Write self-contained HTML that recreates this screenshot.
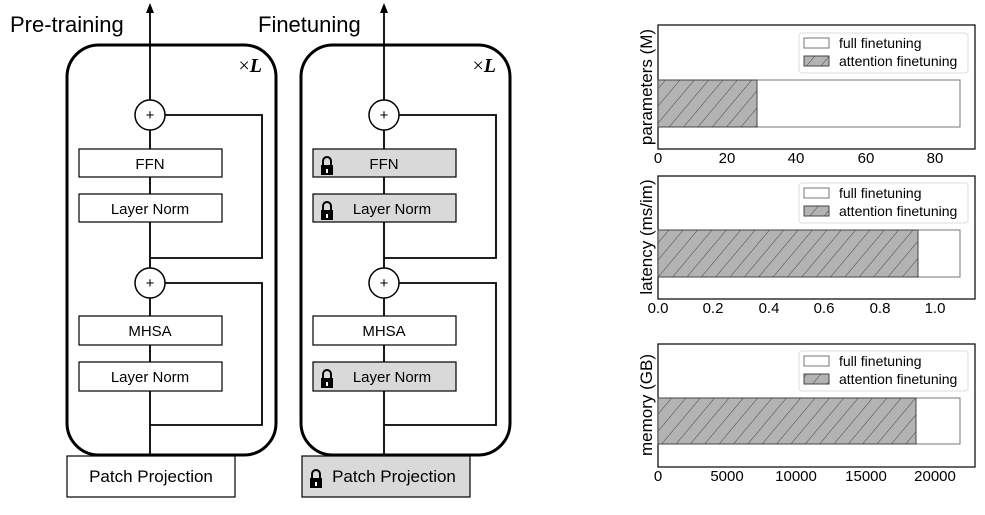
<!DOCTYPE html>
<html><head><style>body{margin:0;background:#fff}svg{display:block}</style></head><body>
<svg width="985" height="515" viewBox="0 0 985 515" xmlns="http://www.w3.org/2000/svg" font-family="Liberation Sans, sans-serif">
<defs>
<pattern id="h" width="11" height="11" patternUnits="userSpaceOnUse" patternTransform="rotate(40)">
<rect width="11" height="11" fill="#b3b3b3"/><line x1="0" y1="0" x2="0" y2="11" stroke="#444" stroke-width="1"/></pattern>
<g id="lock"><rect x="-6" y="-1" width="12" height="10" fill="#000"/><path d="M-4,-1 v-4 a4,4 0 0 1 8,0 v4" fill="none" stroke="#000" stroke-width="2"/><rect x="-1" y="3" width="2" height="4" fill="#fff"/></g>
<g id="blk">
<rect x="67" y="45" width="209" height="410" rx="32" fill="none" stroke="#000" stroke-width="3"/>
<line x1="150" y1="12" x2="150" y2="456" stroke="#000" stroke-width="1.8"/>
<polygon points="150,3 146,13 154,13" fill="#000"/>
<text x="262" y="72" font-family="Liberation Serif, serif" font-size="20" text-anchor="end">×<tspan font-weight="bold" font-style="italic">L</tspan></text>
<polyline points="165,115 262,115 262,258 150,258" fill="none" stroke="#000" stroke-width="1.8"/>
<polyline points="165,283 262,283 262,425 150,425" fill="none" stroke="#000" stroke-width="1.8"/>
<circle cx="150" cy="115" r="15" fill="#fff" stroke="#000" stroke-width="1.5"/>
<circle cx="150" cy="283" r="15" fill="#fff" stroke="#000" stroke-width="1.5"/>
<text x="150" y="120" font-size="15" text-anchor="middle">+</text>
<text x="150" y="288" font-size="15" text-anchor="middle">+</text>
<rect x="79" y="316" width="143" height="29" fill="#fff" stroke="#000" stroke-width="1.2"/>
<text x="150" y="336" font-size="15" text-anchor="middle">MHSA</text>
</g>
</defs>
<text x="10" y="32" font-size="22">Pre-training</text>
<text x="258" y="32" font-size="22">Finetuning</text>
<use href="#blk"/>
<use href="#blk" x="234"/>
<g stroke="#000" stroke-width="1.2" fill="#fff">
<rect x="79" y="149" width="143" height="28"/><rect x="79" y="194" width="143" height="28"/>
<rect x="79" y="362" width="143" height="29"/><rect x="67" y="456" width="168" height="41"/>
</g>
<g font-size="15" text-anchor="middle">
<text x="150" y="169">FFN</text><text x="150" y="214">Layer Norm</text><text x="150" y="382">Layer Norm</text>
<text x="151" y="482" font-size="17">Patch Projection</text></g>
<g stroke="#000" stroke-width="1.2" fill="#d9d9d9">
<rect x="313" y="149" width="143" height="28"/><rect x="313" y="194" width="143" height="28"/>
<rect x="313" y="362" width="143" height="29"/><rect x="302" y="456" width="168" height="41"/>
</g>
<use href="#lock" x="327" y="166"/><use href="#lock" x="327" y="211"/><use href="#lock" x="327" y="379"/><use href="#lock" x="316" y="479"/>
<g font-size="15" text-anchor="middle">
<text x="384" y="169">FFN</text><text x="392" y="214">Layer Norm</text><text x="392" y="382">Layer Norm</text>
<text x="394" y="482" font-size="17">Patch Projection</text></g>
<g font-size="14">
<rect x="658" y="25" width="317" height="124" fill="none" stroke="#000" stroke-width="1.2"/>
<rect x="658" y="80" width="302" height="47" fill="#fff" stroke="#777"/>
<rect x="658" y="80" width="99" height="47" fill="url(#h)" stroke="#444"/>
<rect x="799" y="33" width="169" height="40" rx="3" fill="#fff" stroke="#ddd"/>
<rect x="804" y="38" width="25" height="10" fill="#fff" stroke="#777"/><rect x="804" y="56" width="25" height="10" fill="url(#h)" stroke="#444"/>
<text x="839" y="48">full finetuning</text><text x="839" y="66">attention finetuning</text>
<g text-anchor="middle" font-size="15"><text x="658" y="163">0</text><text x="727" y="163">20</text><text x="796" y="163">40</text><text x="866" y="163">60</text><text x="935" y="163">80</text></g>
<text transform="translate(652,87) rotate(-90)" font-size="17" text-anchor="middle">parameters (M)</text>
<rect x="658" y="176" width="317" height="123" fill="none" stroke="#000" stroke-width="1.2"/>
<rect x="658" y="230" width="302" height="47" fill="#fff" stroke="#777"/>
<rect x="658" y="230" width="260" height="47" fill="url(#h)" stroke="#444"/>
<rect x="799" y="183" width="169" height="40" rx="3" fill="#fff" stroke="#ddd"/>
<rect x="804" y="188" width="25" height="10" fill="#fff" stroke="#777"/><rect x="804" y="206" width="25" height="10" fill="url(#h)" stroke="#444"/>
<text x="839" y="198">full finetuning</text><text x="839" y="216">attention finetuning</text>
<g text-anchor="middle" font-size="15"><text x="658" y="313">0.0</text><text x="713" y="313">0.2</text><text x="769" y="313">0.4</text><text x="824" y="313">0.6</text><text x="880" y="313">0.8</text><text x="935" y="313">1.0</text></g>
<text transform="translate(652,237) rotate(-90)" font-size="17" text-anchor="middle">latency (ms/im)</text>
<rect x="658" y="344" width="317" height="123" fill="none" stroke="#000" stroke-width="1.2"/>
<rect x="658" y="398" width="302" height="46" fill="#fff" stroke="#777"/>
<rect x="658" y="398" width="258" height="46" fill="url(#h)" stroke="#444"/>
<rect x="799" y="351" width="169" height="40" rx="3" fill="#fff" stroke="#ddd"/>
<rect x="804" y="356" width="25" height="10" fill="#fff" stroke="#777"/><rect x="804" y="374" width="25" height="10" fill="url(#h)" stroke="#444"/>
<text x="839" y="366">full finetuning</text><text x="839" y="384">attention finetuning</text>
<g text-anchor="middle" font-size="15"><text x="658" y="481">0</text><text x="727" y="481">5000</text><text x="796" y="481">10000</text><text x="866" y="481">15000</text><text x="935" y="481">20000</text></g>
<text transform="translate(652,405) rotate(-90)" font-size="17" text-anchor="middle">memory (GB)</text>
</g>
</svg>
</body></html>
